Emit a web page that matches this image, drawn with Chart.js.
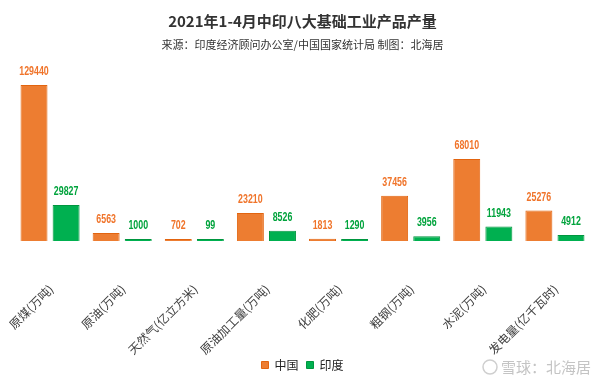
<!DOCTYPE html>
<html>
<head>
<meta charset="utf-8">
<script src="https://cdn.jsdelivr.net/npm/chart.js@4"></script>
<style>
    html, body { margin: 0; padding: 0; background: #fff; }
    #wrap { width: 605px; height: 386px; }
</style>
</head>
<body>
<div id="wrap"><canvas id="outputChart"></canvas></div>
<script>
// 2021年1-4月 中印八大基础工业产品产量
const categories = ['原煤(万吨)', '原油(万吨)', '天然气(亿立方米)', '原油加工量(万吨)', '化肥(万吨)', '粗钢(万吨)', '水泥(万吨)', '发电量(亿千瓦时)'];
const chinaValues = [129440, 6563, 702, 23210, 1813, 37456, 68010, 25276];
const indiaValues = [29827, 1000, 99, 8526, 1290, 3956, 11943, 4912];

const cjk = '"Noto Sans CJK SC", "Noto Sans", sans-serif';

// 柱顶数值标签（窄体字）
const valueLabels = {
    id: 'valueLabels',
    afterDatasetsDraw(chart) {
        const ctx = chart.ctx;
        chart.data.datasets.forEach(function(ds, i) {
            const meta = chart.getDatasetMeta(i);
            meta.data.forEach(function(bar, j) {
                ctx.save();
                ctx.font = 'bold 13px "Liberation Sans", sans-serif';
                ctx.textAlign = 'center';
                ctx.textBaseline = 'bottom';
                ctx.fillStyle = ds.labelColor;
                ctx.translate(bar.x, bar.y - 7);
                ctx.scale(0.68, 1);
                ctx.fillText(String(ds.data[j]), 0, 0);
                ctx.restore();
            });
        });
    }
};

// 斜排分类标签，右上端对齐分类中心
const categoryLabels = {
    id: 'categoryLabels',
    afterDraw(chart) {
        const ctx = chart.ctx;
        const x = chart.scales.x;
        const area = chart.chartArea;
        ctx.save();
        ctx.font = '12px ' + cjk;
        ctx.fillStyle = '#404040';
        ctx.textAlign = 'right';
        ctx.textBaseline = 'middle';
        x.ticks.forEach(function(t, i) {
            ctx.save();
            ctx.translate(x.getPixelForTick(i) + 1, area.bottom + 46);
            ctx.rotate(-Math.PI / 4);
            ctx.fillText(categories[i], 0, 0);
            ctx.restore();
        });
        ctx.restore();
    }
};

// 右下角水印
const watermark = {
    id: 'watermark',
    afterDraw(chart) {
        const ctx = chart.ctx;
        ctx.save();
        ctx.strokeStyle = '#cfcfcf';
        ctx.lineWidth = 1.5;
        ctx.beginPath();
        ctx.arc(490, 367, 7, 0, Math.PI * 2);
        ctx.stroke();
        ctx.fillStyle = '#c4c4c4';
        ctx.font = '15px ' + cjk;
        ctx.textAlign = 'left';
        ctx.textBaseline = 'middle';
        ctx.fillText('雪球：北海居', 501, 367);
        ctx.restore();
    }
};

const outputChart = document.getElementById('outputChart');
new Chart(outputChart, {
    type: 'bar',
    data: {
        labels: categories,
        datasets: [
            {
                label: '中国',
                data: chinaValues,
                backgroundColor: '#ED7D31',
                borderColor: '#E2640F',
                borderWidth: 1,
                minBarLength: 2,
                labelColor: '#F0742A'
            },
            {
                label: '印度',
                data: indiaValues,
                backgroundColor: '#00B050',
                borderColor: '#00963F',
                borderWidth: 1,
                minBarLength: 2,
                labelColor: '#00A33C'
            }
        ]
    },
    options: {
        responsive: true,
        maintainAspectRatio: false,
        animation: false,
        categoryPercentage: 0.89,
        barPercentage: 0.84,
        layout: { padding: { left: 14, right: 14, top: 0, bottom: 5 } },
        plugins: {
            title: {
                display: true,
                text: '2021年1-4月中印八大基础工业产品产量',
                color: '#333',
                font: { family: cjk, size: 15, weight: 'bold' },
                padding: { top: 12, bottom: 8 }
            },
            subtitle: {
                display: true,
                text: '来源：印度经济顾问办公室/中国国家统计局 制图：北海居',
                color: '#333',
                font: { family: cjk, size: 11 },
                padding: { top: 0, bottom: 0 }
            },
            legend: {
                position: 'bottom',
                labels: {
                    boxWidth: 7,
                    boxHeight: 7,
                    padding: 8,
                    color: '#222',
                    font: { family: cjk, size: 12 }
                }
            },
            tooltip: { enabled: false }
        },
        scales: {
            x: {
                grid: { display: false, drawTicks: false },
                border: { display: false },
                ticks: { display: false },
                afterFit: function(scale) {
                    scale.height = 110;
                    scale.paddingLeft = 0;
                    scale.paddingRight = 0;
                }
            },
            y: {
                display: false,
                min: 0,
                max: 157500
            }
        }
    },
    plugins: [valueLabels, categoryLabels, watermark]
});
</script>
</body>
</html>
